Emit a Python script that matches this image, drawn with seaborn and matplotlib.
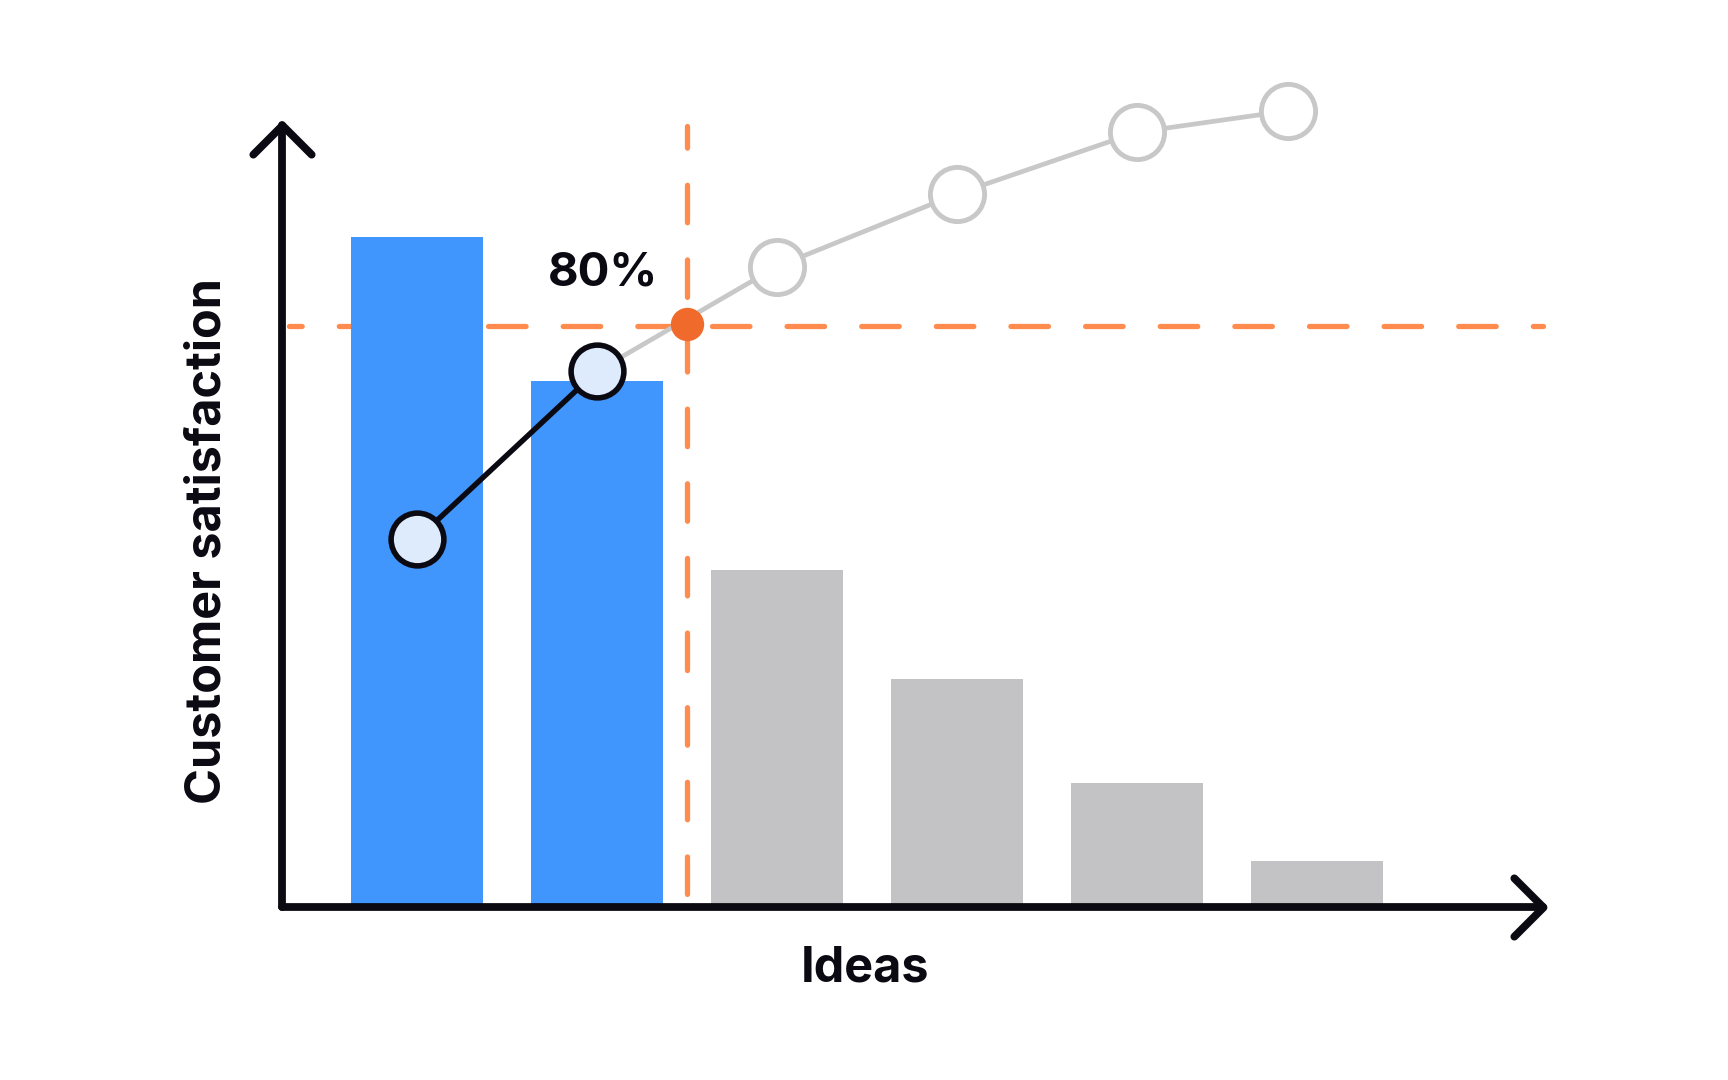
import matplotlib
matplotlib.use("Agg")
import matplotlib.pyplot as plt
from matplotlib.markers import MarkerStyle
from matplotlib.path import Path
import seaborn as sns

# --- data ---
ideas = ["Idea 1", "Idea 2", "Idea 3", "Idea 4", "Idea 5", "Idea 6"]
impact = [60.5, 47.4, 30.3, 20.4, 10.9, 3.9]
n_vital = 2  # the first ideas that make up 80%

cum_x = [0, 1, 2, 3, 4, 4.84]
cum_y = [33.05, 48.3, 57.8, 64.4, 70.0, 71.95]

cutoff_x = 1.5
threshold = 52.4
threshold_label = "80%"

x_label = "Ideas"
y_label = "Customer satisfaction"

# --- styling ---
BLUE = "#4096fc"
GREY_BAR = "#c3c3c5"
GREY_LINE = "#c8c8c8"
ORANGE = "#ff8b4f"
ORANGE_DOT = "#f06a2b"
INK = "#0b0a12"
PALE = "#deebfd"

sns.set_theme(style="white")
plt.rcParams["font.family"] = ["Inter", "DejaVu Sans"]

fig = plt.figure(figsize=(17.28, 10.8), dpi=100)
ax = fig.add_axes([0.0848, 0.0613, 0.8338, 0.8775])
x_lo, x_hi = -1.5, 6.5
ax.set_axis_off()

# axis frame extents
origin_x = -0.747
x_end = 6.255
y_top = 70.7
base_y = -0.3

# bars
palette = {k: (BLUE if i < n_vital else GREY_BAR) for i, k in enumerate(ideas)}
sns.barplot(x=ideas, y=impact, hue=ideas, palette=palette, legend=False,
            width=0.734, saturation=1, linewidth=0, ax=ax, zorder=2)
ax.set_xlim(x_lo, x_hi)
ax.set_ylim(-10, 76)

# 80% guides
lw_dash = 3.8
ax.plot([-0.711, x_end], [threshold, threshold], color=ORANGE, lw=lw_dash,
        ls=(4.7, (7.1, 7.04)), dash_capstyle="round", zorder=1)
ax.plot([cutoff_x, cutoff_x], [70.6, 0], color=ORANGE, lw=lw_dash,
        ls=(3.0, (7.1, 7.04)), dash_capstyle="round", zorder=1)

# cumulative line
sns.lineplot(x=cum_x[n_vital - 1:], y=cum_y[n_vital - 1:], color=GREY_LINE,
             lw=3.4, sort=False, estimator=None, ax=ax, zorder=3)
sns.lineplot(x=cum_x[:n_vital], y=cum_y[:n_vital], color=INK,
             lw=3.9, sort=False, estimator=None, ax=ax, zorder=3)
sns.scatterplot(x=cum_x[n_vital:], y=cum_y[n_vital:], s=39 ** 2, color="white",
                edgecolor=GREY_LINE, linewidth=3.5, ax=ax, zorder=4)
sns.scatterplot(x=cum_x[:n_vital], y=cum_y[:n_vital], s=38 ** 2, color=PALE,
                edgecolor=INK, linewidth=4.0, ax=ax, zorder=4)
ax.plot([cutoff_x], [threshold + 0.2], "o", ms=24, color=ORANGE_DOT, mew=0, zorder=5)

# axes with arrow heads
lw_axis = 5.6
ax.plot([origin_x, origin_x], [base_y, y_top], color=INK, lw=lw_axis,
        solid_capstyle="round", zorder=6, clip_on=False)
ax.plot([origin_x, x_end], [base_y, base_y], color=INK, lw=lw_axis,
        solid_capstyle="round", zorder=6, clip_on=False)
up_head = MarkerStyle(Path([(-1, -1), (0, 0), (1, -1)]), fillstyle="none",
                      capstyle="round", joinstyle="round")
right_head = MarkerStyle(Path([(-1, 1), (0, 0), (-1, -1)]), fillstyle="none",
                         capstyle="round", joinstyle="round")
ax.plot([origin_x], [y_top], marker=up_head, ms=42, mew=lw_axis, color=INK,
        ls="none", zorder=6, clip_on=False)
ax.plot([x_end], [base_y], marker=right_head, ms=42, mew=lw_axis, color=INK,
        ls="none", zorder=6, clip_on=False)

# text
ax.text(1.035, 56.1, threshold_label, ha="center", va="baseline",
        fontsize=34, fontweight="bold", color=INK, zorder=7)
ax.text(2.49, -7.09, x_label, ha="center", va="baseline",
        fontsize=35, fontweight="bold", color=INK)
ax.text(-1.092, 32.9, y_label, ha="center", va="baseline", rotation=90,
        rotation_mode="anchor", fontsize=35, fontweight="bold", color=INK)

fig.savefig("out.png", dpi=100)
